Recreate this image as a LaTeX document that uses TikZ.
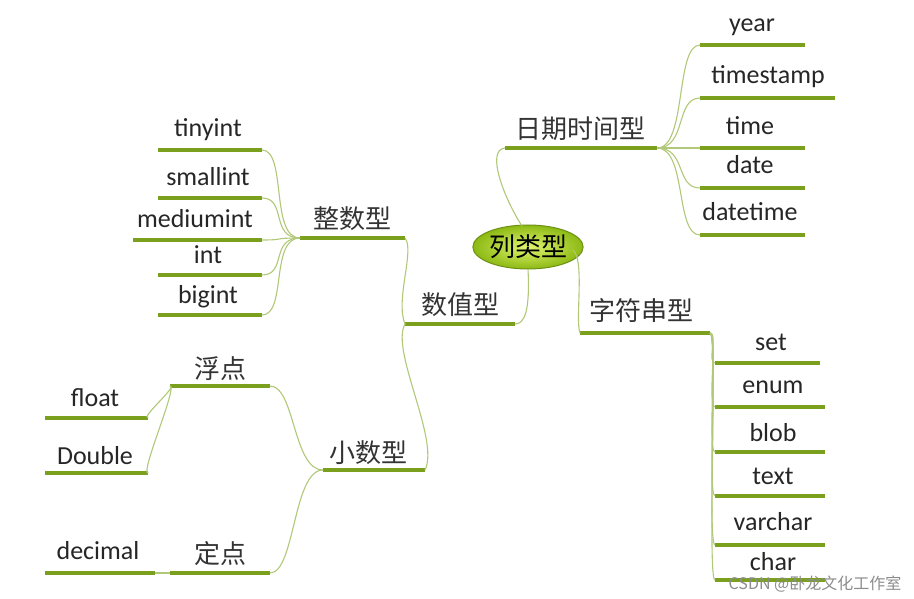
\documentclass[tikz,border=0pt]{standalone}
\usepackage{fontspec}
\usetikzlibrary{shapes.geometric}
\setmainfont{Carlito}
\newfontfamily\cjk{Noto Sans CJK SC}
\begin{document}
\begin{tikzpicture}[x=1pt,y=-1pt,
  lbl/.style={inner sep=0pt,anchor=base,text=black!85,font=\fontsize{26}{28}\selectfont},
  clbl/.style={inner sep=0pt,anchor=base,text=black!80,font=\cjk\fontsize{26}{28}\selectfont},
  bar/.style={line width=3.6pt,color={rgb,255:red,122;green,160;blue,30}},
  con/.style={line width=1.1pt,color={rgb,255:red,176;green,200;blue,120}}]
\useasboundingbox (0,0) rectangle (914,599);
\newcommand\mitem[8]{%
  \node[#1] (#2) at (#4,#5) {#3};
  \coordinate (#2L) at (#6,#8); \coordinate (#2R) at (#7,#8);
  \draw[bar] (#2L) -- (#2R);}
\newcommand\fanR[2]{\draw[con] (#1) .. controls ([xshift=30]#1) and ([xshift=-25]#2) .. (#2);}
\newcommand\fanS[2]{\draw[con] (#1) .. controls ([xshift=8]#1) and ([xshift=-8]#2) .. (#2);}
\newcommand\fanL[2]{\draw[con] (#1) .. controls ([xshift=-30]#1) and ([xshift=25]#2) .. (#2);}
% center
\node[ellipse,minimum width=92pt,minimum height=44pt,inner sep=0pt,draw={rgb,255:red,110;green,145;blue,20},line width=1pt,
  inner color={rgb,255:red,225;green,245;blue,110},outer color={rgb,255:red,140;green,185;blue,20},
  font=\cjk\fontsize{26}{28}\selectfont] (c) at (528,247) {列类型};
\coordinate (cT) at (522,226); \coordinate (cR) at (573,250); \coordinate (cB) at (528,269);
% date branch
\mitem{clbl}{dt}{日期时间型}{580}{139}{505}{657}{148}
\mitem{lbl}{year}{year}{752}{32}{700}{805}{45}
\mitem{lbl}{ts}{timestamp}{768}{84}{700}{835}{98}
\mitem{lbl}{time}{time}{750}{135}{700}{805}{148}
\mitem{lbl}{date}{date}{750}{174}{700}{805}{188}
\mitem{lbl}{dtm}{datetime}{750}{221}{700}{805}{235}
\draw[con] (cT) .. controls (505,200) and (485,150) .. (dtL);
\foreach \n in {year,ts,time,date,dtm} {\fanR{dtR}{\n L}}
% string branch
\mitem{clbl}{str}{字符串型}{641}{320}{580}{710}{333}
\mitem{lbl}{set}{set}{771}{350}{715}{820}{363}
\mitem{lbl}{enum}{enum}{773}{393}{715}{825}{407}
\mitem{lbl}{blob}{blob}{773}{441}{715}{825}{452}
\mitem{lbl}{text}{text}{773}{484}{715}{825}{496}
\mitem{lbl}{vc}{varchar}{773}{530}{715}{825}{545}
\mitem{lbl}{char}{char}{773}{570}{715}{825}{580}
\draw[con] (cR) .. controls (585,260) and (575,320) .. (strL);
\foreach \n in {set,enum,blob,text,vc,char} {\fanS{strR}{\n L}}
% numeric
\mitem{clbl}{num}{数值型}{460}{314}{405}{515}{324}
\draw[con] (cB) .. controls (530,310) and (525,324) .. (numR);
\mitem{clbl}{int}{整数型}{352}{229}{300}{405}{238}
\mitem{clbl}{dec}{小数型}{368}{462}{323}{425}{470}
\draw[con] (numL) .. controls (395,300) and (415,250) .. (intR);
\draw[con] (numL) .. controls (390,350) and (440,440) .. (decR);
\mitem{lbl}{ti}{tinyint}{208}{137}{158}{262}{150}
\mitem{lbl}{si}{smallint}{208}{186}{158}{262}{198}
\mitem{lbl}{mi}{mediumint}{195}{228}{133}{262}{240}
\mitem{lbl}{ii}{int}{208}{264}{158}{262}{275}
\mitem{lbl}{bi}{bigint}{208}{303}{158}{262}{315}
\foreach \n in {ti,si,mi,ii,bi} {\fanL{intL}{\n R}}
\mitem{clbl}{fp}{浮点}{220}{378}{170}{270}{386}
\mitem{clbl}{dp}{定点}{220}{563}{170}{270}{573}
\fanL{decL}{fpR}
\fanL{decL}{dpR}
\mitem{lbl}{fl}{float}{95}{406}{45}{148}{418}
\mitem{lbl}{db}{Double}{95}{464}{45}{148}{473}
\mitem{lbl}{dm}{decimal}{98}{559}{45}{155}{573}
\fanS{fpL}{flR}
\fanS{fpL}{dbR}
\draw[con] (dpL) -- (dmR);
\node[inner sep=0pt,anchor=base,text=black!45,font=\cjk\fontsize{16}{18}\selectfont] (wm) at (815,589) {CSDN @卧龙文化工作室};
\end{tikzpicture}
\end{document}
